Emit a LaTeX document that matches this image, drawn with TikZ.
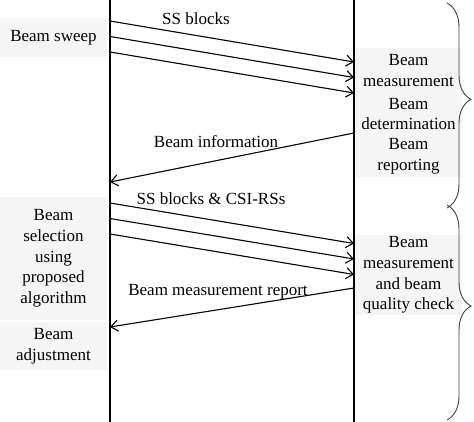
\documentclass[tikz,border=0pt]{standalone}
\usepackage{fontspec}
\setmainfont{Liberation Serif}
\usetikzlibrary{
    decorations.pathreplacing,
    arrows.meta,
    calc,
    positioning
}
\tikzset{
    stepbox/.style={fill=black!4, inner sep=0pt, align=center, minimum width=107pt},
    msg/.style={->, line width=1.1pt},
    phase/.style={decorate, decoration={brace, amplitude=24pt, aspect=0.47}, line width=0.9pt, draw=black!75}
}
\newcommand{\burst}[3]{
    \foreach \k in {0, 1, 2} {
        \coordinate (#3l\k) at (110, #1 + 15.5*\k);
        \coordinate (#3r\k) at (354, #2 + 15.5*\k);
        \draw[msg] (#3l\k) -- (#3r\k);
    }
}

\begin{document}
\begin{tikzpicture}[x=1pt, y=-1pt, >={Straight Barb[length=7pt, width=11pt]},
    font=\fontsize{17}{20.7}\selectfont]
    \useasboundingbox (0, 0) rectangle (474, 422);
    % boxes on the left
    \node[stepbox, minimum height=39pt] (sweep) at (53.5, 37.5) {Beam sweep};
    \node[stepbox, minimum height=123pt] (select) at (53.5, 258.5) {Beam\\selection\\using\\proposed\\algorithm};
    \node[stepbox, minimum height=48pt] (adjust) at (53.5, 346) {Beam\\adjustment};
    % boxes on the right
    \node[stepbox, minimum height=45pt] (meas) at (408.5, 70.5) {Beam\\measurement};
    \node[stepbox, minimum height=42pt] (determ) at (408.5, 114) {Beam\\determination};
    \node[stepbox, minimum height=42pt] (report) at (408.5, 156) {Beam\\reporting};
    \node[stepbox, minimum height=80pt] (check) at (408.5, 275) {Beam\\measurement\\and beam\\quality check};
    % the two time lines
    \coordinate (bstop) at (110, 0);
    \coordinate (bsbot) at (110, 422);
    \coordinate (uetop) at (354, 0);
    \coordinate (uebot) at (354, 422);
    \draw[line width=1.2pt] (bstop) -- (bsbot) (uetop) -- (uebot);
    % messages
    \burst{21}{62}{ss}
    \node (sslabel) at (196, 19) {SS blocks};
    \coordinate (info0) at (354, 133);
    \coordinate (info1) at (110, 182);
    \draw[msg] (info0) -- (info1);
    \node (infolabel) at (216, 142) {Beam information};
    \burst{203}{243.5}{csi}
    \node (csilabel) at (211, 199) {SS blocks \& CSI-RSs};
    \coordinate (rep0) at (354, 288);
    \coordinate (rep1) at (110, 327);
    \draw[msg] (rep0) -- (rep1);
    \node (replabel) at (218, 292) {Beam measurement report};
    % braces
    \coordinate (br1a) at (447, 3);
    \coordinate (br1b) at (447, 208);
    \coordinate (br2a) at (447, 205);
    \coordinate (br2b) at (447, 420);
    \draw[phase] (br1a) -- (br1b);
    \draw[phase] (br2a) -- (br2b);
\end{tikzpicture}
\end{document}
